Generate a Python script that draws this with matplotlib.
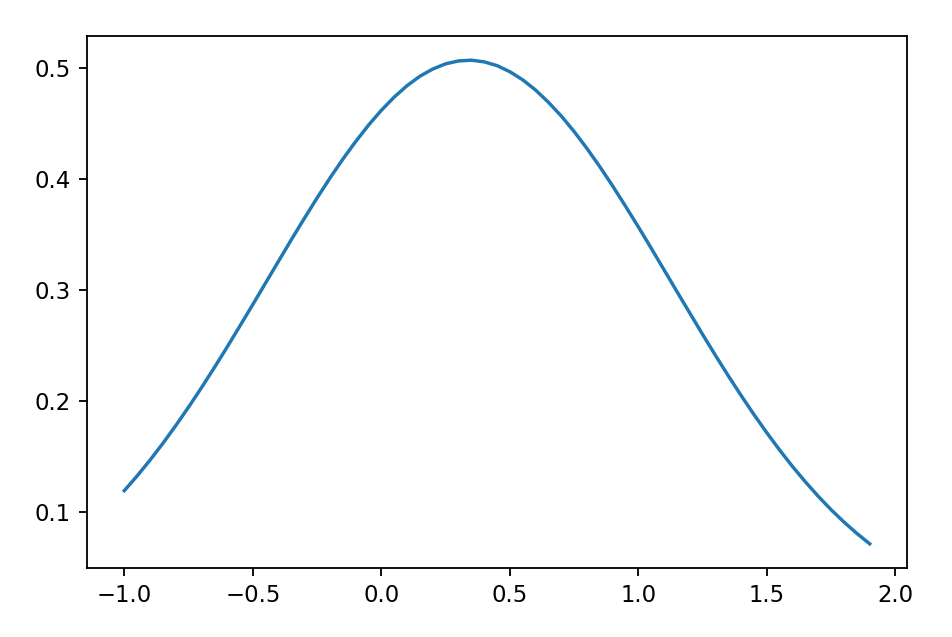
import matplotlib
matplotlib.use("Agg")
import matplotlib.pyplot as plt

# values, x step 0.05
x_vals = [-1.00, -0.95, -0.90, -0.85, -0.80, -0.75, -0.70, -0.65, -0.60, -0.55,
          -0.50, -0.45, -0.40, -0.35, -0.30, -0.25, -0.20, -0.15, -0.10, -0.05,
          0.00, 0.05, 0.10, 0.15, 0.20, 0.25, 0.30, 0.35, 0.40, 0.45,
          0.50, 0.55, 0.60, 0.65, 0.70, 0.75, 0.80, 0.85, 0.90, 0.95,
          1.00, 1.05, 1.10, 1.15, 1.20, 1.25, 1.30, 1.35, 1.40, 1.45,
          1.50, 1.55, 1.60, 1.65, 1.70, 1.75, 1.80, 1.85, 1.90]
y_vals = [0.1190, 0.1323, 0.1465, 0.1616, 0.1776, 0.1943, 0.2117, 0.2298, 0.2484, 0.2675,
          0.2868, 0.3063, 0.3258, 0.3453, 0.3642, 0.3828, 0.4007, 0.4177, 0.4336, 0.4484,
          0.4618, 0.4737, 0.4840, 0.4925, 0.4990, 0.5037, 0.5063, 0.5070, 0.5055, 0.5021,
          0.4966, 0.4893, 0.4801, 0.4691, 0.4567, 0.4427, 0.4274, 0.4110, 0.3936, 0.3754,
          0.3567, 0.3375, 0.3180, 0.2985, 0.2791, 0.2598, 0.2409, 0.2225, 0.2047, 0.1875,
          0.1711, 0.1555, 0.1407, 0.1269, 0.1139, 0.1018, 0.0907, 0.0805, 0.0711]

dpi = 164
fig, ax = plt.subplots(figsize=(952 / dpi, 637 / dpi), dpi=dpi)
fig.subplots_adjust(left=0.0914, right=0.9527, bottom=0.1083, top=0.9435)

ax.plot(x_vals, y_vals, color="#1f77b4", linewidth=1.5)

fig.savefig("out.png", dpi=dpi)
